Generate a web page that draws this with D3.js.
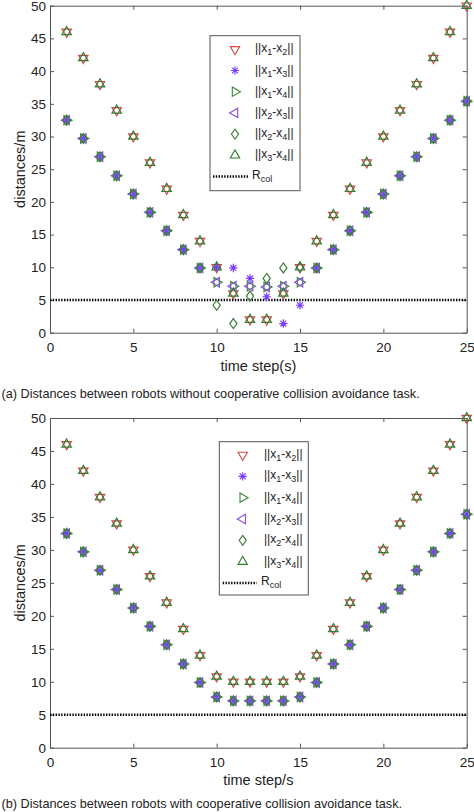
<!DOCTYPE html>
<html>
<head>
<meta charset="utf-8">
<script src="https://cdn.jsdelivr.net/npm/d3@7"></script>
<style>
  body { margin: 0; background: #fff; }
  svg { display: block; font-family: "Liberation Sans", Arial, sans-serif; }
</style>
</head>
<body>
<svg id="fig" width="474" height="812"></svg>
<script>
// time steps and tick labels
var steps = [1,2,3,4,5,6,7,8,9,10,11,12,13,14,15,16,17,18,19,20,21,22,23,24,25];
var xTicks = [0,5,10,15,20,25];
var yTicks = [0,5,10,15,20,25,30,35,40,45,50];
var rCol = 5;

// (a) without cooperative collision avoidance
var a_x1x2 = [46,42,38,34,30,26,22,18,14,10,6,2,2,6,10,14,18,22,26,30,34,38,42,46,50];
var a_x1x3 = [32.5,29.7,26.9,24.0,21.2,18.4,15.6,12.7,9.9,10,9.9,8.3,5.5,1.4,4.2,9.9,12.7,15.6,18.4,21.2,24.0,26.9,29.7,32.5,35.4];
var a_x1x4 = [32.5,29.7,26.9,24.0,21.2,18.4,15.6,12.7,9.9,7.7,7.1,7.1,7.0,7.1,7.7,9.9,12.7,15.6,18.4,21.2,24.0,26.9,29.7,32.5,35.4];
var a_x2x3 = [32.5,29.7,26.9,24.0,21.2,18.4,15.6,12.7,9.9,7.7,7.1,7.1,7.0,7.1,7.7,9.9,12.7,15.6,18.4,21.2,24.0,26.9,29.7,32.5,35.4];
var a_x2x4 = [32.5,29.7,26.9,24.0,21.2,18.4,15.6,12.7,9.9,4.2,1.4,5.6,8.3,9.9,10,9.9,12.7,15.6,18.4,21.2,24.0,26.9,29.7,32.5,35.4];
var a_x3x4 = [46,42,38,34,30,26,22,18,14,10,6,2,2,6,10,14,18,22,26,30,34,38,42,46,50];

// (b) with cooperative collision avoidance
var b_x1x2 = [46,42,38,34,30,26,22,18,14,10.8,10,10,10,10,10.8,14,18,22,26,30,34,38,42,46,50];
var b_x1x3 = [32.5,29.7,26.9,24.0,21.2,18.4,15.6,12.7,9.9,7.7,7.1,7.1,7.1,7.1,7.7,9.9,12.7,15.6,18.4,21.2,24.0,26.9,29.7,32.5,35.4];
var b_x1x4 = [32.5,29.7,26.9,24.0,21.2,18.4,15.6,12.7,9.9,7.7,7.1,7.1,7.1,7.1,7.7,9.9,12.7,15.6,18.4,21.2,24.0,26.9,29.7,32.5,35.4];
var b_x2x3 = [32.5,29.7,26.9,24.0,21.2,18.4,15.6,12.7,9.9,7.7,7.1,7.1,7.1,7.1,7.7,9.9,12.7,15.6,18.4,21.2,24.0,26.9,29.7,32.5,35.4];
var b_x2x4 = [32.5,29.7,26.9,24.0,21.2,18.4,15.6,12.7,9.9,7.7,7.1,7.1,7.1,7.1,7.7,9.9,12.7,15.6,18.4,21.2,24.0,26.9,29.7,32.5,35.4];
var b_x3x4 = [46,42,38,34,30,26,22,18,14,10.8,10,10,10,10,10.8,14,18,22,26,30,34,38,42,46,50];

// legend pairs (robot indices) and marker styles, in plotting order
var pairs = [[1,2],[1,3],[1,4],[2,3],[2,4],[3,4]];
var shapes = ["v","*",">","<","d","^"];
var colors = ["#d04848","#7a3cff","#3b8a3b","#8550dc","#3a7e3a","#2f7d2f"];

var fig = {
	svg: d3.select("#fig"),
	x: d3.scaleLinear().domain([0,25]).range([50,466.7]),
	// MATLAB '*' : plus + cross
	star: { draw: function(ctx, size) {
		var r = Math.sqrt(size)/2, q = r*0.7;
		ctx.moveTo(-r,0); ctx.lineTo(r,0);
		ctx.moveTo(0,-r); ctx.lineTo(0,r);
		ctx.moveTo(-q,-q); ctx.lineTo(q,q);
		ctx.moveTo(-q,q); ctx.lineTo(q,-q);
	}},
	diamond: { draw: function(ctx, size) {
		var h = Math.sqrt(size)/2, w = h*0.72;
		ctx.moveTo(0,-h); ctx.lineTo(w,0); ctx.lineTo(0,h); ctx.lineTo(-w,0); ctx.closePath();
	}},
	marker: function(shape) {
		if(shape == "*") return {d: d3.symbol().type(fig.star).size(70)(), rot: 0};
		if(shape == "d") return {d: d3.symbol().type(fig.diamond).size(100)(), rot: 0};
		var tri = d3.symbol().type(d3.symbolTriangle).size(38)();
		var rot = {"^":0, "v":180, ">":90, "<":-90}[shape];
		return {d: tri, rot: rot};
	},
	label: function(sel, parts, size) {
		// parts: [text, isSub]
		var t = sel.append("text").style("font-size", size+"px").attr("fill", "#222");
		var shifted = false;
		parts.forEach(function(p) {
			var ts = t.append("tspan").text(p[0]);
			if(p[1] && !shifted) { ts.attr("dy", 3).style("font-size", (size-3)+"px"); shifted = true; }
			else if(!p[1] && shifted) { ts.attr("dy", -3); shifted = false; }
		});
		return t;
	},
	panel: function(cfg) {
		var g = fig.svg.append("g");
		var x = fig.x;
		var y = d3.scaleLinear().domain([0,50]).range([cfg.bottom, cfg.top]);
		var axisColor = "#555";

		// box + inward ticks
		g.append("g").attr("transform","translate(0,"+cfg.bottom+")")
			.call(d3.axisBottom(x).tickValues(xTicks).tickSizeInner(-4).tickSizeOuter(0).tickPadding(10));
		g.append("g").attr("transform","translate(0,"+cfg.top+")")
			.call(d3.axisTop(x).tickValues(xTicks).tickSizeInner(-4).tickSizeOuter(0).tickFormat(""));
		g.append("g").attr("transform","translate("+x.range()[0]+",0)")
			.call(d3.axisLeft(y).tickValues(yTicks).tickSizeInner(-4).tickSizeOuter(0).tickPadding(4));
		g.append("g").attr("transform","translate("+x.range()[1]+",0)")
			.call(d3.axisRight(y).tickValues(yTicks).tickSizeInner(-4).tickSizeOuter(0).tickFormat(""));
		g.selectAll(".domain, .tick line").attr("stroke", axisColor).attr("stroke-width", 1);
		g.selectAll(".tick text").attr("fill", "#222").style("font-size", "13.5px")
			.style("font-family", "'Liberation Sans', Arial, sans-serif");

		// R_col line
		g.append("line")
			.attr("x1", x(0)).attr("x2", x(25)).attr("y1", y(rCol)).attr("y2", y(rCol))
			.attr("stroke", "#000").attr("stroke-width", 2.5).attr("stroke-dasharray", "1.4,1.4");

		// markers
		cfg.series.forEach(function(vals, i) {
			var m = fig.marker(shapes[i]);
			g.append("g").selectAll("path").data(steps).enter().append("path")
				.attr("d", m.d)
				.attr("transform", function(t, j) { return "translate("+x(t)+","+y(vals[j])+") rotate("+m.rot+")"; })
				.attr("fill", "none").attr("stroke", colors[i]).attr("stroke-width", 1.2);
		});

		// labels
		g.append("text").attr("x", (x.range()[0]+x.range()[1])/2).attr("y", cfg.xlabelY)
			.attr("text-anchor", "middle").style("font-size", "14.5px").attr("fill", "#222").text(cfg.xlabel);
		g.append("text").attr("transform", "translate(25,"+((cfg.top+cfg.bottom)/2)+") rotate(-90)")
			.attr("text-anchor", "middle").style("font-size", "14.5px").attr("fill", "#222").text("distances/m");
		g.append("text").attr("x", 1.5).attr("y", cfg.captionY)
			.style("font-size", "12.7px").attr("fill", "#222").text(cfg.caption);

		// legend
		var L = cfg.legend;
		var lg = g.append("g");
		lg.append("rect").attr("x", L.x).attr("y", L.y).attr("width", L.w).attr("height", L.h)
			.attr("fill", "#fff").attr("stroke", "#555").attr("stroke-width", 1);
		pairs.forEach(function(p, i) {
			var m = fig.marker(shapes[i]);
			var ry = L.row0 + i*L.dy;
			lg.append("path").attr("d", m.d)
				.attr("transform", "translate("+L.symX+","+ry+") rotate("+m.rot+")")
				.attr("fill", "none").attr("stroke", colors[i]).attr("stroke-width", 1.1);
			fig.label(lg, [["||x",false],[String(p[0]),true],["-x",false],[String(p[1]),true],["||",false]], 12)
				.attr("x", L.textX).attr("y", ry+3);
		});
		var ly = L.row0 + 6*L.dy;
		lg.append("line").attr("x1", L.lineX0).attr("x2", L.lineX1).attr("y1", ly).attr("y2", ly)
			.attr("stroke", "#000").attr("stroke-width", 2.5).attr("stroke-dasharray", "1.4,1.4");
		fig.label(lg, [["R",false],["col",true]], 12).attr("x", L.textX - 3).attr("y", ly+2);
	}
};

fig.panel({
	top: 5.7, bottom: 332.7,
	series: [a_x1x2, a_x1x3, a_x1x4, a_x2x3, a_x2x4, a_x3x4],
	xlabel: "time step(s)", xlabelY: 371,
	caption: "(a) Distances between robots without cooperative collision avoidance task.", captionY: 398,
	legend: {x: 210, y: 35.7, w: 90, h: 155, row0: 49.3, dy: 21.2, symX: 235, textX: 255, lineX0: 213, lineX1: 249}
});
fig.panel({
	top: 418, bottom: 747.7,
	series: [b_x1x2, b_x1x3, b_x1x4, b_x2x3, b_x2x4, b_x3x4],
	xlabel: "time step/s", xlabelY: 785,
	caption: "(b) Distances between robots with cooperative collision avoidance task.", captionY: 808,
	legend: {x: 219.3, y: 441.7, w: 89, h: 153.3, row0: 455, dy: 21.33, symX: 242.7, textX: 264, lineX0: 222.7, lineX1: 256.7}
});
</script>
</body>
</html>
